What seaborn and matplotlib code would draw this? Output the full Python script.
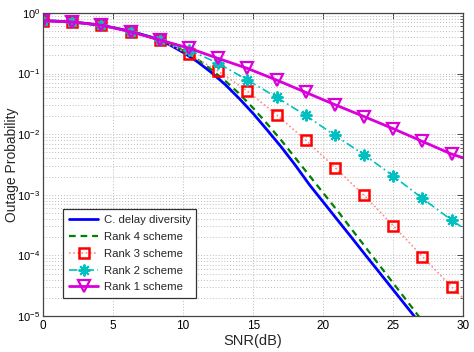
import numpy as np
import pandas as pd
import matplotlib
matplotlib.use("Agg")
import matplotlib.pyplot as plt
import seaborn as sns
from matplotlib.ticker import LogLocator, NullFormatter, FixedLocator

# ---- data ----
snr_fine = list(range(0, 28))
cdd = [0.750, 0.733, 0.708, 0.676, 0.631, 0.575, 0.513, 0.447, 0.380, 0.302,
       0.224, 0.158, 0.105, 0.0661, 0.0389, 0.0219, 0.0117, 6.17e-3, 3.09e-3,
       1.48e-3, 7.59e-4, 3.89e-4, 2.0e-4, 1.02e-4, 5.25e-5, 2.69e-5, 1.38e-5, 7.08e-6]
rank4 = [0.750, 0.733, 0.708, 0.676, 0.631, 0.575, 0.513, 0.447, 0.389, 0.316,
         0.240, 0.174, 0.117, 0.0759, 0.0468, 0.0269, 0.0148, 7.94e-3, 4.07e-3,
         2.09e-3, 1.07e-3, 5.5e-4, 2.75e-4, 1.38e-4, 6.9e-5, 3.47e-5, 1.74e-5, 8.7e-6]

snr_mark = [0, 2.08, 4.17, 6.25, 8.33, 10.42, 12.5, 14.58, 16.67, 18.75,
            20.83, 22.92, 25.0, 27.08, 29.17, 30.0]
rank3 = [0.746, 0.710, 0.631, 0.490, 0.359, 0.209, 0.110, 0.0516, 0.0209, 7.94e-3,
         2.82e-3, 9.77e-4, 3.09e-4, 9.55e-5, 3.02e-5, 1.95e-5]
rank2 = [0.746, 0.710, 0.631, 0.490, 0.359, 0.245, 0.148, 0.0783, 0.0407, 0.0204,
         9.55e-3, 4.57e-3, 2.04e-3, 8.71e-4, 3.80e-4, 2.82e-4]
rank1 = [0.746, 0.710, 0.631, 0.490, 0.359, 0.263, 0.178, 0.122, 0.0783, 0.049,
         0.0307, 0.0195, 0.0123, 7.59e-3, 4.68e-3, 4.07e-3]

labels = ["C. delay diversity", "Rank 4 scheme", "Rank 3 scheme",
          "Rank 2 scheme", "Rank 1 scheme"]
x_ticks = [0, 5, 10, 15, 20, 25, 30]

sns.set_style("white")
plt.rcParams['font.family'] = ['Liberation Sans', 'DejaVu Sans']
plt.rcParams['mathtext.default'] = 'regular'

fig = plt.figure(figsize=(4.74, 3.52), dpi=100)
ax = fig.add_axes([0.0907, 0.1023, 0.8869, 0.8608])

mk = slice(0, 15)
sns.lineplot(x=snr_fine, y=cdd, ax=ax, color=(0, 0, 1), lw=2.0,
             label=labels[0])
sns.lineplot(x=snr_fine, y=rank4, ax=ax, color=(0, 0.5, 0), lw=1.6,
             linestyle=(0, (3.0, 2.2)), label=labels[1])
sns.lineplot(x=snr_mark, y=rank3, ax=ax, color='#ff8c8c', lw=1.2,
             linestyle=(0, (1, 1.5)), marker='s', markersize=7.5,
             markerfacecolor='none', markeredgecolor='red', markeredgewidth=1.8,
             markevery=mk, label=labels[2])
sns.lineplot(x=snr_mark, y=rank2, ax=ax, color=(0, 0.75, 0.75), lw=1.2,
             linestyle=(0, (5, 2, 1, 2)), marker=(8, 2, 0), markersize=8.5,
             markeredgecolor=(0, 0.75, 0.75), markeredgewidth=1.4,
             markevery=mk, label=labels[3])
sns.lineplot(x=snr_mark, y=rank1, ax=ax, color=(0.85, 0, 0.85), lw=2.0,
             marker='v', markersize=9, markerfacecolor='none',
             markeredgecolor=(0.85, 0, 0.85), markeredgewidth=1.6,
             markevery=mk, label=labels[4])

ax.set_yscale('log')
ax.set_xlim(0, 30)
ax.set_ylim(1e-5, 1)
ax.xaxis.set_major_locator(FixedLocator(x_ticks))
ax.yaxis.set_major_locator(LogLocator(base=10, numticks=10))
ax.yaxis.set_minor_locator(LogLocator(base=10, subs=np.arange(2, 10), numticks=20))
ax.yaxis.set_minor_formatter(NullFormatter())

ax.grid(True, which='major', axis='both', color='#bbbbbb', linestyle=(0, (1, 2)), lw=0.7)
ax.grid(True, which='minor', axis='y', color='#bbbbbb', linestyle=(0, (1, 2)), lw=0.7)

ax.tick_params(which='both', direction='in', top=True, right=True,
               colors='#333333', labelcolor='black')
ax.tick_params(axis='x', which='major', labelsize=8.5, length=4, width=0.6, pad=3)
ax.tick_params(axis='y', which='major', labelsize=8, length=4, width=0.6, pad=2)
ax.tick_params(which='minor', length=2, width=0.5)
for s in ax.spines.values():
    s.set_color('#444444')
    s.set_linewidth(0.9)

ax.set_xlabel("SNR(dB)", fontsize=10.5, labelpad=1)
ax.set_ylabel("Outage Probability", fontsize=10)
ax.yaxis.set_label_coords(-0.058, 0.5)

leg = ax.legend(loc='lower left', bbox_to_anchor=(0.048, 0.059), borderaxespad=0,
                fontsize=8.2, handlelength=2.6, handletextpad=0.45,
                labelspacing=0.6, borderpad=0.5, frameon=True, fancybox=False)
leg.get_frame().set_edgecolor('#333333')
leg.get_frame().set_linewidth(0.9)
leg.get_frame().set_facecolor('white')
leg.get_frame().set_alpha(1)

fig.savefig("out.png", dpi=100)
